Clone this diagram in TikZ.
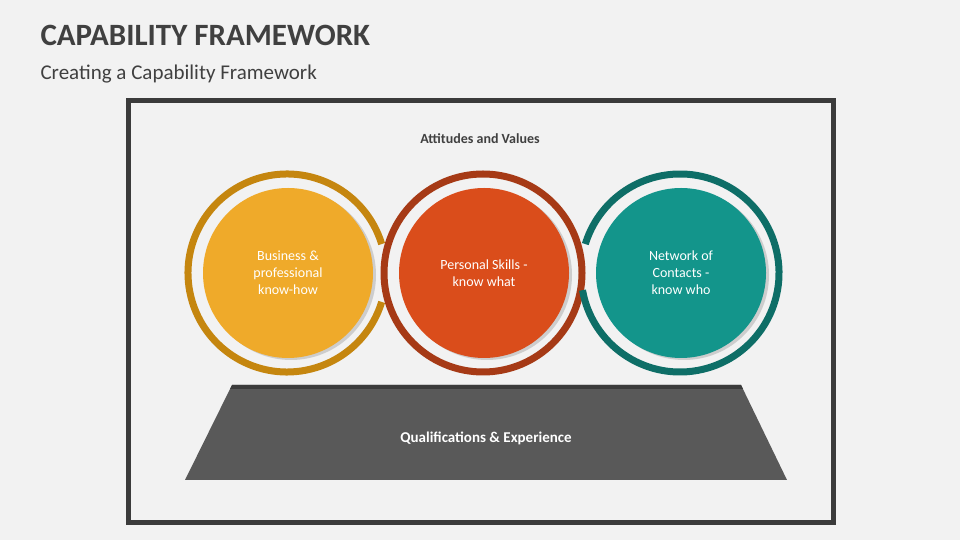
\documentclass[tikz,border=0pt]{standalone}
\usepackage{fontspec}
\setmainfont{Carlito}
\begin{document}
\begin{tikzpicture}[x=1pt,y=1pt,
  lbl/.style={text=white,font=\fontsize{14}{17}\selectfont,align=center},
  disk/.style={circle,minimum size=170pt,inner sep=0pt}]
\definecolor{bg}{HTML}{F2F2F2}
\definecolor{gold}{HTML}{EFAA2A}\definecolor{goldr}{HTML}{C5860F}
\definecolor{org}{HTML}{DA4D1B}\definecolor{orgr}{HTML}{A63A16}
\definecolor{teal}{HTML}{13958B}\definecolor{tealr}{HTML}{0E6E67}
\definecolor{frame}{HTML}{3B3B3B}\definecolor{trap}{HTML}{595959}
\definecolor{ttl}{HTML}{404040}
\fill[bg] (0,0) rectangle (960,540);
\useasboundingbox (0,0) rectangle (960,540);
\node[anchor=west,text=ttl,font=\fontsize{31}{36}\selectfont\bfseries] (title) at (37,505) {CAPABILITY FRAMEWORK};
\node[anchor=west,text=ttl,font=\fontsize{21}{25}\selectfont] (sub) at (37,466) {Creating a Capability Framework};
\draw[frame,line width=5] (128,439) rectangle (833,17);
\node[text=ttl,font=\fontsize{14}{17}\selectfont\bfseries] (att) at (480,401) {Attitudes and Values};
% rings
\draw[goldr,line width=7] (287,267)++(17:99) arc[start angle=17,end angle=343,radius=99];
\draw[orgr,line width=7] (483,267) circle[radius=99];
\draw[tealr,line width=7] (680,267)++(190:99) arc[start angle=190,end angle=523,radius=99];
% disks
\foreach \x/\c in {289/gold,485/org,682/teal}{
  \fill[black,opacity=0.15] (\x+2,265) circle[radius=85];}
\node[disk,fill=gold] (b) at (288,267) {};
\node[disk,fill=org] (p) at (484,267) {};
\node[disk,fill=teal] (n) at (681,267) {};
\node[lbl] at (b) {Business \&\\professional\\know-how};
\node[lbl] at (p) {Personal Skills -\\know what};
\node[lbl] at (n) {Network of\\Contacts -\\know who};
% trapezoid
\fill[trap] (232,155) -- (741,155) -- (787,60) -- (185,60) -- cycle;
\fill[frame] (232,155) -- (741,155) -- (743,151) -- (230,151) -- cycle;
\node[text=white,font=\fontsize{15}{18}\selectfont\bfseries] (q) at (486,102) {Qualifications \& Experience};
\end{tikzpicture}
\end{document}
